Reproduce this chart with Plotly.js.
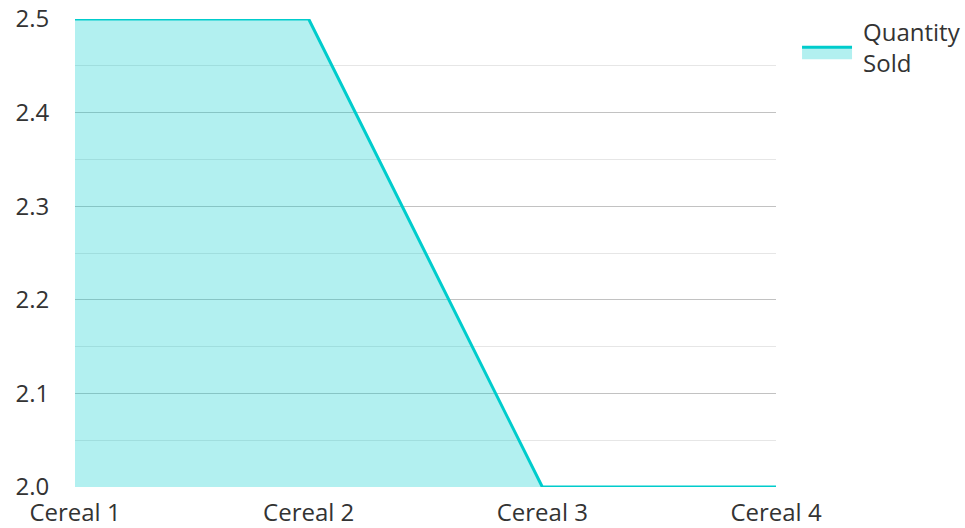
<!DOCTYPE html>
<html>
<head>
<meta charset="utf-8">
<script src="https://cdn.plot.ly/plotly-3.0.1.min.js"></script>
<style>html,body{margin:0;padding:0;background:#fff;}#chart{width:965px;height:528px;}</style>
</head>
<body>
<div id="chart"></div>
<script>
const categories = ["Cereal 1", "Cereal 2", "Cereal 3", "Cereal 4"];
const quantitySold = [2.5, 2.5, 2.0, 2.0];
const seriesName = "Quantity<br>Sold";

const trace = {
  x: categories,
  y: quantitySold,
  type: "scatter",
  mode: "lines",
  name: seriesName,
  fill: "tozeroy",
  fillcolor: "rgba(0,204,204,0.3)",
  line: {color: "#00cccc", width: 3}
};

const layout = {
  width: 965,
  height: 528,
  margin: {l: 75, r: 189, t: 19, b: 41, autoexpand: false},
  paper_bgcolor: "#ffffff",
  plot_bgcolor: "#ffffff",
  font: {family: "Open Sans, Noto Sans, sans-serif", size: 24, color: "#333333"},
  showlegend: true,
  legend: {x: 1.03, y: 1.02, xanchor: "left", yanchor: "top", itemwidth: 56, font: {size: 24, color: "#333333"}},
  xaxis: {
    type: "category",
    range: [0, 3],
    showgrid: false,
    zeroline: false,
    showline: false,
    ticks: "outside",
    ticklen: 4,
    tickcolor: "rgba(0,0,0,0)",
    tickfont: {size: 24, color: "#333333"}
  },
  yaxis: {
    range: [2.0, 2.5],
    dtick: 0.1,
    tickformat: ".1f",
    showgrid: true,
    gridcolor: "#c2c2c2",
    gridwidth: 1,
    zeroline: false,
    showline: false,
    ticks: "outside",
    ticklen: 20,
    tickcolor: "rgba(0,0,0,0)",
    tickfont: {size: 24, color: "#333333"},
    minor: {dtick: 0.05, showgrid: true, gridcolor: "#e6e6e6", gridwidth: 1}
  }
};

Plotly.newPlot("chart", [trace], layout, {displayModeBar: false, staticPlot: true}).then(function (gd) {
  // widen the legend swatch to match the reference
  gd.querySelectorAll(".legend .legendlines path").forEach(function (p) {
    p.setAttribute("d", "M5,0h50");
  });
  gd.querySelectorAll(".legend .legendfill path").forEach(function (p) {
    p.setAttribute("d", "M5,0h50v12h-50z");
  });
});
</script>
</body>
</html>
